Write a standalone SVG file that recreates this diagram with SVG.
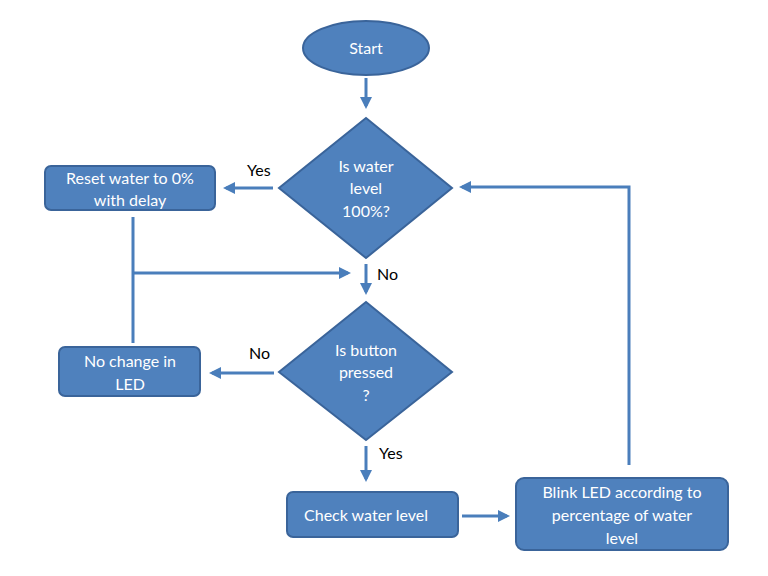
<svg xmlns="http://www.w3.org/2000/svg" width="768" height="576" viewBox="0 0 768 576">
<style>
.n{fill:#4f81bd;stroke:#3a649a;stroke-width:2}
.t{fill:#fff;font-family:Lato,"Open Sans",sans-serif;font-size:16px;text-anchor:middle}
.l{fill:#000;font-family:Lato,"Open Sans",sans-serif;font-size:16px}
.c{fill:none;stroke:#4a7ebb;stroke-width:3}
</style>
<defs><marker id="a" markerWidth="4" markerHeight="4" refX="3" refY="2" orient="auto"><path d="M0,0L4,2L0,4z" fill="#4a7ebb"/></marker></defs>
<rect width="768" height="576" fill="#fff"/>
<g id="start"><ellipse class="n" cx="366" cy="48" rx="63" ry="27"/><text class="t" x="366" y="54">Start</text></g>
<g id="d1"><polygon class="n" points="366,118 452,188 366,258 279,188"/><text class="t"><tspan x="366" y="172">Is water</tspan><tspan x="366" y="194">level</tspan><tspan x="366" y="217">100%?</tspan></text></g>
<g id="reset"><rect class="n" x="45" y="166" width="170" height="44" rx="6"/><text class="t"><tspan x="130" y="184">Reset water to 0%</tspan><tspan x="130" y="206">with delay</tspan></text></g>
<g id="d2"><polygon class="n" points="366,302 452,372 366,440 279,372"/><text class="t"><tspan x="366" y="356">Is button</tspan><tspan x="366" y="378">pressed</tspan><tspan x="366" y="401">?</tspan></text></g>
<g id="nochange"><rect class="n" x="59" y="347" width="141" height="49" rx="6"/><text class="t"><tspan x="130" y="367">No change in</tspan><tspan x="130" y="390">LED</tspan></text></g>
<g id="check"><rect class="n" x="287" y="492" width="171" height="45" rx="6"/><text class="t" x="366" y="521">Check water level</text></g>
<g id="blink"><rect class="n" x="516" y="478" width="212" height="72" rx="8"/><text class="t"><tspan x="622" y="498">Blink LED according to</tspan><tspan x="622" y="521">percentage of water</tspan><tspan x="622" y="544">level</tspan></text></g>
<g id="connectors">
<path class="c" d="M366,78V106" marker-end="url(#a)"/>
<path class="c" d="M273,188H226" marker-end="url(#a)"/>
<path class="c" d="M133,217V343M133,273H348" marker-end="url(#a)"/>
<path class="c" d="M366,264V292" marker-end="url(#a)"/>
<path class="c" d="M274,373H212" marker-end="url(#a)"/>
<path class="c" d="M366,446V479" marker-end="url(#a)"/>
<path class="c" d="M462,516H507" marker-end="url(#a)"/>
<path class="c" d="M629,465V187H462" marker-end="url(#a)"/>
</g>
<text class="l" x="247" y="176">Yes</text>
<text class="l" x="377" y="280">No</text>
<text class="l" x="249" y="359">No</text>
<text class="l" x="379" y="459">Yes</text>
</svg>
